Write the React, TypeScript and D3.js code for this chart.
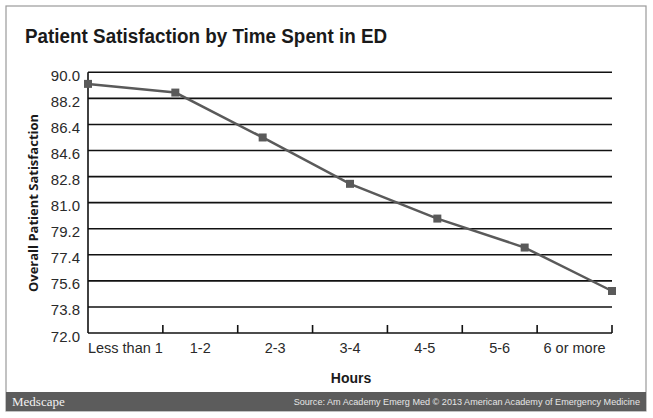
import { useEffect, useRef } from 'react'
import * as d3 from 'd3'

// ─── Data ────────────────────────────────────────────────────────────────────

const hours = ['Less than 1', '1-2', '2-3', '3-4', '4-5', '5-6', '6 or more']
const satisfaction = [89.2, 88.6, 85.5, 82.3, 79.9, 77.9, 74.9]
const yTicks = [72.0, 73.8, 75.6, 77.4, 79.2, 81.0, 82.8, 84.6, 86.4, 88.2, 90.0]

const W = 653
const H = 418
const font = '"Liberation Sans", Arial, sans-serif'

export default function App() {
  const ref = useRef<SVGSVGElement>(null)

  useEffect(() => {
    if (!ref.current) return
    const svg = d3.select(ref.current)
    svg.selectAll('*').remove()

    const plot = { left: 88, right: 612, top: 72.3, bottom: 333 }

    // frame
    svg.append('rect')
      .attr('x', 6).attr('y', 6)
      .attr('width', 640).attr('height', 405)
      .attr('fill', '#fff')
      .attr('stroke', '#9a9a9a')
      .attr('stroke-width', 1.2)

    // title (slightly condensed, like the original)
    svg.append('text')
      .attr('transform', 'translate(25,43) scale(0.92,1)')
      .attr('font-family', font)
      .attr('font-weight', 'bold')
      .attr('font-size', 20.5)
      .attr('fill', '#1a1a1a')
      .text('Patient Satisfaction by Time Spent in ED')

    const y = d3.scaleLinear().domain([72, 90]).range([plot.bottom, plot.top])
    const xPts = d3.scalePoint<string>().domain(hours).range([plot.left, plot.right])
    const xBand = d3.scaleBand<string>().domain(hours).range([plot.left, plot.right])

    const g = svg.append('g')

    // horizontal gridlines
    g.selectAll('.grid')
      .data(yTicks)
      .join('line')
      .attr('class', 'grid')
      .attr('x1', plot.left).attr('x2', plot.right)
      .attr('y1', (d) => y(d)).attr('y2', (d) => y(d))
      .attr('stroke', '#111')
      .attr('stroke-width', 1.6)

    // left axis line
    g.append('line')
      .attr('x1', plot.left).attr('x2', plot.left)
      .attr('y1', plot.top).attr('y2', plot.bottom)
      .attr('stroke', '#111')
      .attr('stroke-width', 1.6)

    // y tick labels
    g.selectAll('.ylab')
      .data(yTicks)
      .join('text')
      .attr('class', 'ylab')
      .attr('x', 80)
      .attr('y', (d) => y(d) + 8.5)
      .attr('text-anchor', 'end')
      .attr('font-family', font)
      .attr('font-size', 15)
      .attr('fill', '#2a2a2a')
      .text((d) => d.toFixed(1))

    // x ticks at band boundaries (pointing up)
    g.selectAll('.xtick')
      .data(hours)
      .join('line')
      .attr('class', 'xtick')
      .attr('x1', (d) => xBand(d)! + xBand.bandwidth())
      .attr('x2', (d) => xBand(d)! + xBand.bandwidth())
      .attr('y1', plot.bottom - 8).attr('y2', plot.bottom)
      .attr('stroke', '#111')
      .attr('stroke-width', 1.6)

    // x labels
    g.selectAll('.xlab')
      .data(hours)
      .join('text')
      .attr('class', 'xlab')
      .attr('x', (d) => xBand(d)! + xBand.bandwidth() / 2)
      .attr('y', 353)
      .attr('text-anchor', 'middle')
      .attr('font-family', font)
      .attr('font-size', 14.5)
      .attr('fill', '#2a2a2a')
      .text((d) => d)

    // line
    const line = d3.line<number>()
      .x((_, i) => xPts(hours[i])!)
      .y((d) => y(d))
    g.append('path')
      .datum(satisfaction)
      .attr('d', line)
      .attr('fill', 'none')
      .attr('stroke', '#5a5a5a')
      .attr('stroke-width', 2.5)

    // square markers
    const s = 8
    g.selectAll('.mk')
      .data(satisfaction)
      .join('rect')
      .attr('class', 'mk')
      .attr('x', (_, i) => xPts(hours[i])! - s / 2)
      .attr('y', (d) => y(d) - s / 2)
      .attr('width', s).attr('height', s)
      .attr('fill', '#5a5a5a')

    // axis titles
    svg.append('text')
      .attr('x', 351).attr('y', 383)
      .attr('text-anchor', 'middle')
      .attr('font-family', font)
      .attr('font-weight', 'bold')
      .attr('font-size', 14)
      .attr('fill', '#1a1a1a')
      .text('Hours')

    svg.append('text')
      .attr('transform', 'translate(38,203) rotate(-90)')
      .attr('text-anchor', 'middle')
      .attr('font-family', '"Open Sans", sans-serif')
      .attr('font-weight', 'bold')
      .attr('font-size', 13)
      .attr('fill', '#1a1a1a')
      .text('Overall Patient Satisfaction')

    // footer banner
    svg.append('rect')
      .attr('x', 6).attr('y', 392)
      .attr('width', 640).attr('height', 19)
      .attr('fill', '#5c5c5c')

    svg.append('text')
      .attr('x', 12).attr('y', 406)
      .attr('font-family', '"Liberation Serif", "Times New Roman", serif')
      .attr('font-size', 13)
      .attr('fill', '#f2f2f2')
      .text('Medscape')

    svg.append('text')
      .attr('x', 640).attr('y', 405)
      .attr('text-anchor', 'end')
      .attr('font-family', font)
      .attr('font-size', 9.1)
      .attr('fill', '#e6e6e6')
      .text('Source: Am Academy Emerg Med \u00a9 2013 American Academy of Emergency Medicine')
  }, [])

  return (
    <svg
      ref={ref}
      width={W}
      height={H}
      viewBox={`0 0 ${W} ${H}`}
      style={{ position: 'absolute', left: 0, top: 0, background: '#fff' }}
    />
  )
}
